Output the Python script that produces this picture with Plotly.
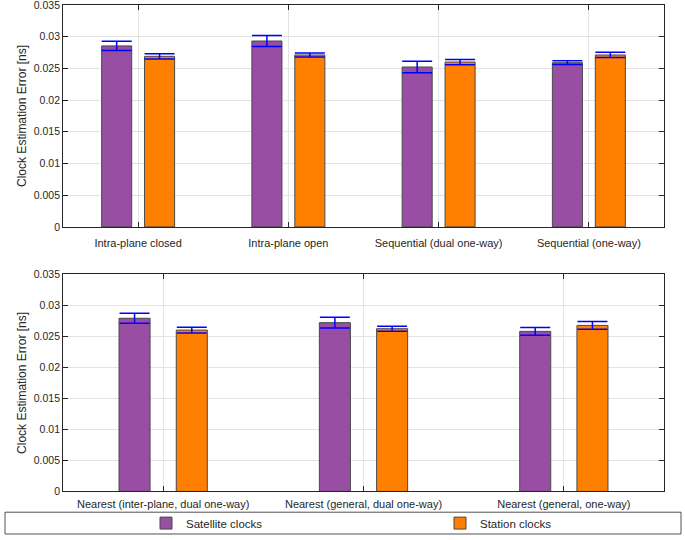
import plotly.graph_objects as go
from plotly.subplots import make_subplots

# ---- data ----
top_categories = ["Intra-plane closed", "Intra-plane open", "Sequential (dual one-way)", "Sequential (one-way)"]
top_satellite = [0.02855, 0.02932, 0.02522, 0.02590]
top_satellite_err = [0.00072, 0.00087, 0.00090, 0.00030]
top_station = [0.02690, 0.02712, 0.02600, 0.02712]
top_station_err = [0.00042, 0.00032, 0.00042, 0.00042]

bottom_categories = ["Nearest (inter-plane, dual one-way)", "Nearest (general, dual one-way)", "Nearest (general, one-way)"]
bottom_satellite = [0.02793, 0.02722, 0.02582]
bottom_satellite_err = [0.00080, 0.00087, 0.00062]
bottom_station = [0.02602, 0.02625, 0.02678]
bottom_station_err = [0.00045, 0.00040, 0.00062]

y_tick_vals = [0, 0.005, 0.01, 0.015, 0.02, 0.025, 0.03, 0.035]
y_tick_labels = ["0", "0.005", "0.01", "0.015", "0.02", "0.025", "0.03", "0.035"]

series_names = ["Satellite clocks", "Station clocks"]
y_title = "Clock Estimation Error [ns]"

# ---- style ----
W, H = 685, 540
PURPLE = "#984EA3"
ORANGE = "#FF7F00"
ERR = "#0000FF"
EDGE = "#4a4a4a"
AX = "#262626"
GRID = "#e3e3e3"
FONT = "Liberation Sans, Arial, sans-serif"

ML, MR, MT, MB = 63, 21, 5, 2
plot_w = W - ML - MR
plot_h = H - MT - MB


def py2paper(py):
    return 1 - (py - MT) / plot_h


def px2paper(px):
    return (px - ML) / plot_w


fig = make_subplots(rows=2, cols=1)

groups = [
    (1, top_categories, top_satellite, top_satellite_err, top_station, top_station_err, 0.2),
    (2, bottom_categories, bottom_satellite, bottom_satellite_err, bottom_station, bottom_station_err, 0.155),
]
legend_ids = ["legend", "legend2"]
off = 1 / 7
for row, cats, sat, sat_e, sta, sta_e, bw in groups:
    for i, (vals, errs, color, sign) in enumerate([
        (sat, sat_e, PURPLE, -1),
        (sta, sta_e, ORANGE, 1),
    ]):
        fig.add_trace(
            go.Bar(
                x=cats, y=vals, name=series_names[i],
                width=bw, offset=sign * off - bw / 2,
                marker=dict(color=color, line=dict(color=EDGE, width=1)),
                error_y=dict(type="data", array=errs, visible=True,
                             color=ERR, thickness=1.5, width=15),
                showlegend=(row == 1),
                legendgroup=series_names[i],
                legend=legend_ids[i],
            ),
            row=row, col=1,
        )

axis_common = dict(
    showline=True, linecolor=AX, linewidth=0.8, mirror="ticks",
    ticks="inside", ticklen=5, tickcolor=AX, tickwidth=0.8,
    showgrid=True, gridcolor=GRID, gridwidth=1,
    tickfont=dict(family=FONT, size=10.5, color=AX),
    zeroline=False, automargin=False, ticklabeloverflow="allow",
)

fig.update_xaxes(**axis_common)
fig.update_xaxes(tickfont=dict(size=11))
fig.update_yaxes(**axis_common)

title_font = dict(family=FONT, size=12, color=AX)
legend_common = dict(
    orientation="h", xanchor="left", yanchor="middle", y=py2paper(528),
    font=dict(family=FONT, size=11.5, color=AX), bgcolor="rgba(0,0,0,0)",
)
fig.update_layout(
    xaxis=dict(domain=[0, 1], range=[-0.5, 3.5], type="category", ticklabelstandoff=6),
    xaxis2=dict(domain=[0, 1], range=[-0.5, 2.5], type="category", ticklabelstandoff=3),
    yaxis=dict(domain=[py2paper(229), py2paper(5)], range=[0, 0.035],
               tickvals=y_tick_vals, ticktext=y_tick_labels,
               title=dict(text=y_title, font=title_font, standoff=4)),
    yaxis2=dict(domain=[py2paper(496), py2paper(277)], range=[0, 0.035],
                tickvals=y_tick_vals, ticktext=y_tick_labels,
                title=dict(text=y_title, font=title_font, standoff=4)),
    barmode="overlay",
    width=W, height=H,
    margin=dict(l=ML, r=MR, t=MT, b=MB),
    paper_bgcolor="white", plot_bgcolor="white",
    font=dict(family=FONT, size=11, color=AX),
    legend=dict(x=px2paper(146), **legend_common),
    legend2=dict(x=px2paper(440), **legend_common),
    shapes=[dict(
        type="rect", xref="paper", yref="paper",
        x0=px2paper(5), x1=px2paper(681),
        y0=py2paper(539), y1=py2paper(517),
        line=dict(color=AX, width=0.8), fillcolor="white", layer="below",
    )],
)

fig.write_html(
    "out.html",
    config={"displayModeBar": False},
    post_script="document.body.style.margin='0';document.body.style.overflow='hidden';",
)
